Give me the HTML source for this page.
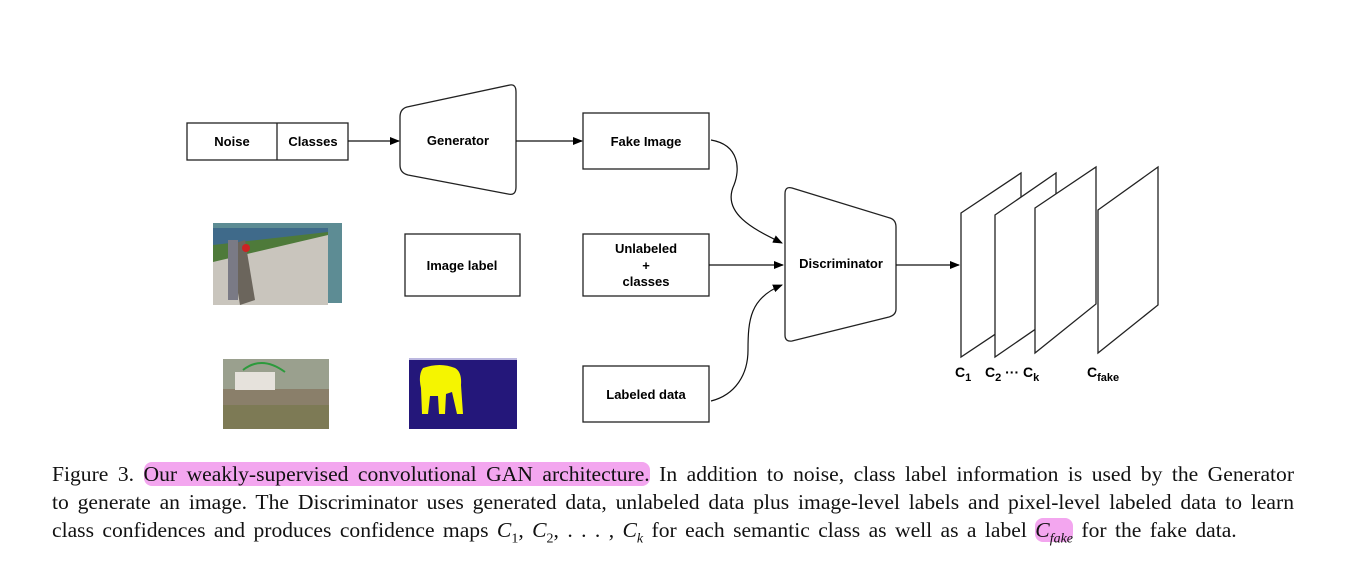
<!DOCTYPE html>
<html><head><meta charset="utf-8"><style>
body{margin:0;background:#fff;width:1357px;height:583px;overflow:hidden;position:relative}
svg{position:absolute;left:0;top:0}
.cap{position:absolute;left:52px;width:1242px;font-family:"Liberation Serif",serif;font-size:21.6px;color:#111;text-align:justify;text-align-last:justify;white-space:nowrap;line-height:24px}
.last{text-align-last:left;word-spacing:3px}
.hl{background:#f3a6ef;border-radius:8px}
i{font-style:italic}
</style></head><body>
<svg width="1357" height="583" viewBox="0 0 1357 583" font-family="Liberation Sans, sans-serif" font-weight="bold" font-size="13">
<defs><marker id="a" markerWidth="10" markerHeight="8" refX="9" refY="4" orient="auto" markerUnits="userSpaceOnUse"><path d="M0,0 L10,4 L0,8 z" fill="#000"/></marker></defs>
<g fill="#fff" stroke="#222" stroke-width="1.3">
<rect x="187" y="123" width="161" height="37"/>
<line x1="277" y1="123" x2="277" y2="160"/>
<path d="M407,107 L510,85 Q516,84 516,92 L516,187 Q516,196 508,194 L408,175 Q400,173 400,165 L400,117 Q400,109 407,107 z"/>
<rect x="583" y="113" width="126" height="56"/>
<rect x="405" y="234" width="115" height="62"/>
<rect x="583" y="234" width="126" height="62"/>
<rect x="583" y="366" width="126" height="56"/>
<path d="M792,188 L890,218 Q896,220 896,227 L896,309 Q896,315 889,317 L792,341 Q785,342 785,335 L785,194 Q785,186 792,188 z"/>
<path d="M961,213 L1021,173 L1021,317 L961,357 z"/>
<path d="M995,215 L1056,173 L1056,315 L995,357 z"/>
<path d="M1035,208 L1096,167 L1096,304 L1035,353 z"/>
<path d="M1098,210 L1158,167 L1158,305 L1098,353 z"/>
</g>
<g fill="none" stroke="#111" stroke-width="1.2">
<line x1="348" y1="141" x2="399" y2="141" marker-end="url(#a)"/>
<line x1="516" y1="141" x2="582" y2="141" marker-end="url(#a)"/>
<line x1="709" y1="265" x2="783" y2="265" marker-end="url(#a)"/>
<line x1="896" y1="265" x2="959" y2="265" marker-end="url(#a)"/>
<path d="M711,140 C740,145 740,170 734,185 C720,215 760,232 782,243" marker-end="url(#a)"/>
<path d="M711,401 C735,395 748,375 748,350 C748,320 750,298 782,285" marker-end="url(#a)"/>
</g>
<g text-anchor="middle" fill="#000">
<text x="232" y="146">Noise</text>
<text x="313" y="146">Classes</text>
<text x="458" y="145">Generator</text>
<text x="646" y="146">Fake Image</text>
<text x="462" y="270">Image label</text>
<text x="646" y="253">Unlabeled</text>
<text x="646" y="270">+</text>
<text x="646" y="286">classes</text>
<text x="646" y="399">Labeled data</text>
<text x="841" y="268">Discriminator</text>
</g>
<g fill="#000" font-size="14">
<text x="955" y="377">C<tspan font-size="11" dy="4">1</tspan></text>
<text x="985" y="377">C<tspan font-size="11" dy="4">2</tspan><tspan dy="-4"> ··· C</tspan><tspan font-size="11" dy="4">k</tspan></text>
<text x="1087" y="377">C<tspan font-size="11" dy="4">fake</tspan></text>
</g>
<rect x="213" y="223" width="129" height="80" fill="#5d8c94"/>
<rect x="213" y="228" width="115" height="77" fill="#c9c5bd"/>
<polygon points="213,240 300,228 328,228 328,235 213,262" fill="#4e7a3a"/>
<polygon points="213,228 328,228 328,232 213,245" fill="#3f6a8a"/>
<polygon points="230,245 245,240 255,300 240,305" fill="#6b655c"/>
<rect x="228" y="240" width="10" height="60" fill="#7a7a85"/>
<circle cx="246" cy="248" r="4" fill="#c22"/>
<rect x="223" y="359" width="106" height="70" fill="#8a7f6a"/>
<rect x="223" y="359" width="106" height="30" fill="#9aa08e"/>
<rect x="223" y="405" width="106" height="24" fill="#7d7a55"/>
<rect x="235" y="372" width="40" height="18" fill="#e6e2dc"/>
<path d="M243,370 Q262,355 285,372" stroke="#2c9a3c" stroke-width="2" fill="none"/>
<rect x="409" y="359" width="108" height="70" fill="#24177a"/>
<rect x="409" y="358" width="108" height="2" fill="#bcb8e0"/>
<path d="M423,368 Q440,362 455,368 Q462,372 461,385 L463,414 L457,414 L452,392 L446,394 L445,414 L439,414 L438,396 L430,396 L428,414 L422,414 L421,388 Q418,375 423,368 z" fill="#f5f500"/>
</svg>
<div class="cap" style="top:462px">Figure 3. <span class="hl">Our weakly-supervised convolutional GAN architecture.</span> In addition to noise, class label information is used by the Generator</div>
<div class="cap" style="top:490px">to generate an image. The Discriminator uses generated data, unlabeled data plus image-level labels and pixel-level labeled data to learn</div>
<div class="cap last" style="top:518px">class confidences and produces confidence maps <i>C</i><sub style="font-size:14px">1</sub>, <i>C</i><sub style="font-size:14px">2</sub>, . . . , <i>C<sub style="font-size:14px">k</sub></i> for each semantic class as well as a label <span class="hl"><i>C<sub style="font-size:14px">fake</sub></i></span> for the fake data.</div>
</body></html>
